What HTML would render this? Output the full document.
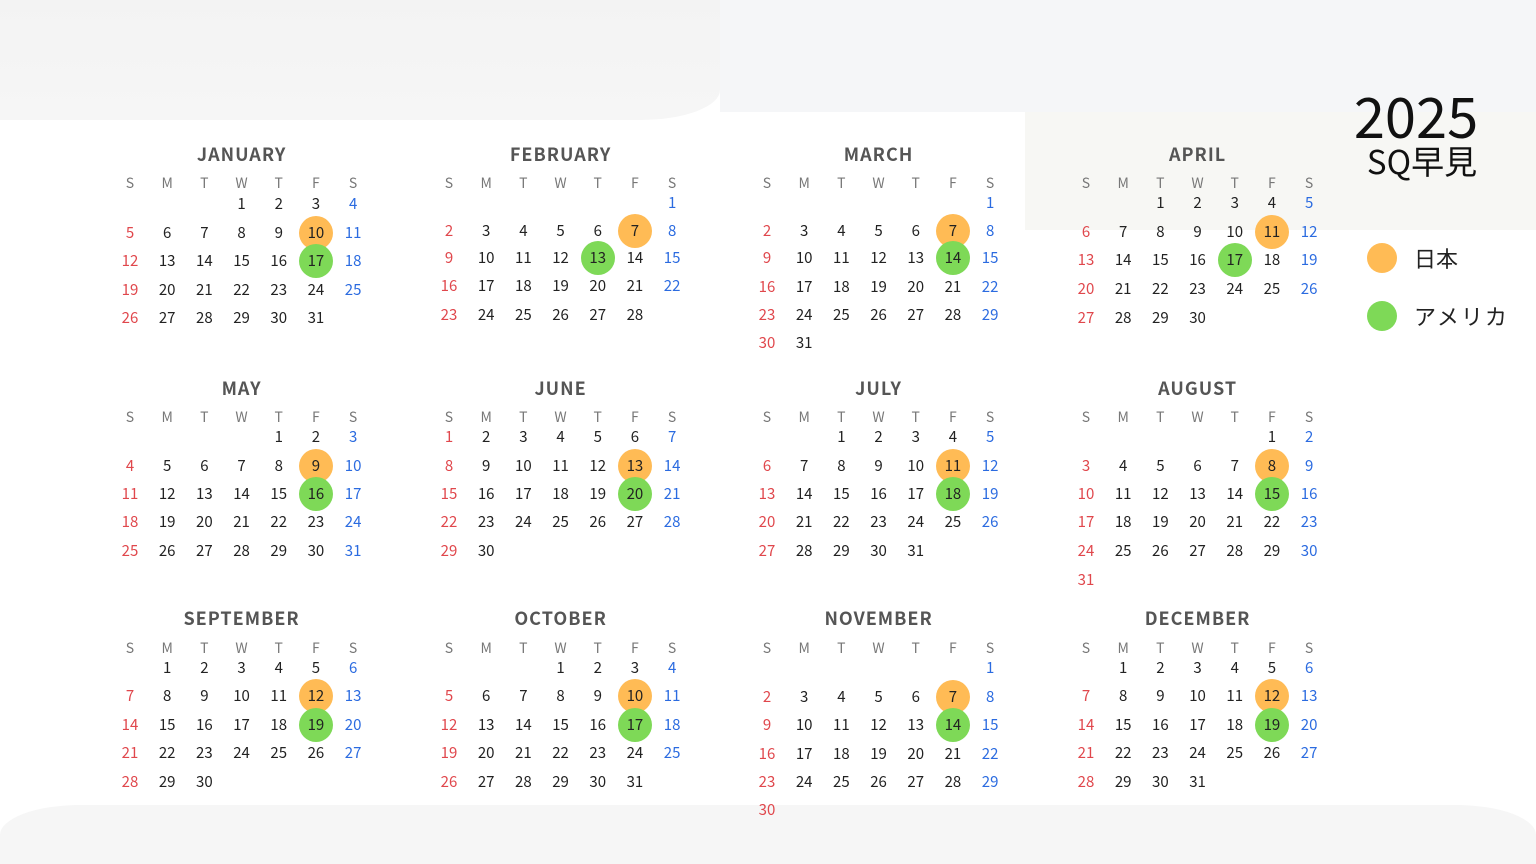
<!DOCTYPE html>
<html><head><meta charset="utf-8"><style>
*{margin:0;padding:0;box-sizing:border-box}
body{width:1536px;height:864px;position:relative;overflow:hidden;background:#fff;font-family:"Noto Sans CJK JP","Liberation Sans",sans-serif;color:#222}
.bg{position:absolute}
.m{position:absolute;width:260.4px}
.t{position:absolute;left:0;width:260.4px;text-align:center;font-size:18px;font-weight:700;letter-spacing:1px;color:#555;line-height:24px}
.h,.r{position:absolute;left:0;display:flex}
.h i,.r i{font-style:normal;width:37.2px;text-align:center;display:block;position:relative}
.h i{font-size:14px;color:#777;line-height:20px}
.r i{font-size:15px;line-height:28px;height:28px}
.r i:first-child{color:#e0474c}
.r i:last-child{color:#2b6be0}
.r i.o,.r i.g{z-index:1}
.r i.o::before,.r i.g::before{content:"";position:absolute;left:1.6px;top:-3px;width:34px;height:34px;border-radius:50%;z-index:-1}
.r i.o::before{background:#ffbb55}
.r i.g::before{background:#7ed957}
</style></head><body>
<div class="bg" style="left:0;top:0;width:720px;height:120px;background:linear-gradient(180deg,#f3f3f3,#f6f6f6);border-radius:0 0 80px 0/0 0 30px 0"></div>
<div class="bg" style="left:720px;top:0;width:816px;height:112px;background:#f5f6f8"></div>
<div class="bg" style="left:1025px;top:112px;width:511px;height:118px;background:#f7f7f4"></div>
<div class="bg" style="left:0;top:805px;width:1536px;height:59px;background:#f6f6f6;border-radius:80px 80px 0 0/30px 30px 0 0"></div>

<div style="position:absolute;left:1334px;top:82px;width:164px;text-align:center;font-size:56px;line-height:66px;color:#111">2025</div>
<div style="position:absolute;left:1340px;top:138px;width:164px;text-align:center;font-size:33px;line-height:44px;color:#111">SQ早見</div>
<div style="position:absolute;left:1367px;top:243px;width:30px;height:30px;border-radius:50%;background:#ffbb55"></div>
<div style="position:absolute;left:1414px;top:243px;font-size:22px;line-height:30px;color:#222">日本</div>
<div style="position:absolute;left:1367px;top:301px;width:30px;height:30px;border-radius:50%;background:#7ed957"></div>
<div style="position:absolute;left:1414px;top:301px;font-size:22px;line-height:30px;color:#222;letter-spacing:2px">アメリカ</div>

<!-- Row 1 -->
<div class="m" style="left:111.4px;top:0">
<div class="t" style="top:142px">JANUARY</div>
<div class="h" style="top:173px"><i>S</i><i>M</i><i>T</i><i>W</i><i>T</i><i>F</i><i>S</i></div>
<div class="r" style="top:190px"><i></i><i></i><i></i><i>1</i><i>2</i><i>3</i><i>4</i></div>
<div class="r" style="top:218.5px"><i>5</i><i>6</i><i>7</i><i>8</i><i>9</i><i class="o">10</i><i>11</i></div>
<div class="r" style="top:247px"><i>12</i><i>13</i><i>14</i><i>15</i><i>16</i><i class="g">17</i><i>18</i></div>
<div class="r" style="top:275.5px"><i>19</i><i>20</i><i>21</i><i>22</i><i>23</i><i>24</i><i>25</i></div>
<div class="r" style="top:304px"><i>26</i><i>27</i><i>28</i><i>29</i><i>30</i><i>31</i><i></i></div>
</div>
<div class="m" style="left:430.4px;top:0">
<div class="t" style="top:142px">FEBRUARY</div>
<div class="h" style="top:173px"><i>S</i><i>M</i><i>T</i><i>W</i><i>T</i><i>F</i><i>S</i></div>
<div class="r" style="top:189px"><i></i><i></i><i></i><i></i><i></i><i></i><i>1</i></div>
<div class="r" style="top:216.5px"><i>2</i><i>3</i><i>4</i><i>5</i><i>6</i><i class="o">7</i><i>8</i></div>
<div class="r" style="top:244px"><i>9</i><i>10</i><i>11</i><i>12</i><i class="g">13</i><i>14</i><i>15</i></div>
<div class="r" style="top:272px"><i>16</i><i>17</i><i>18</i><i>19</i><i>20</i><i>21</i><i>22</i></div>
<div class="r" style="top:301px"><i>23</i><i>24</i><i>25</i><i>26</i><i>27</i><i>28</i><i></i></div>
</div>
<div class="m" style="left:748.4px;top:0">
<div class="t" style="top:142px">MARCH</div>
<div class="h" style="top:173px"><i>S</i><i>M</i><i>T</i><i>W</i><i>T</i><i>F</i><i>S</i></div>
<div class="r" style="top:189px"><i></i><i></i><i></i><i></i><i></i><i></i><i>1</i></div>
<div class="r" style="top:216.5px"><i>2</i><i>3</i><i>4</i><i>5</i><i>6</i><i class="o">7</i><i>8</i></div>
<div class="r" style="top:244px"><i>9</i><i>10</i><i>11</i><i>12</i><i>13</i><i class="g">14</i><i>15</i></div>
<div class="r" style="top:272.5px"><i>16</i><i>17</i><i>18</i><i>19</i><i>20</i><i>21</i><i>22</i></div>
<div class="r" style="top:301px"><i>23</i><i>24</i><i>25</i><i>26</i><i>27</i><i>28</i><i>29</i></div>
<div class="r" style="top:329px"><i>30</i><i>31</i><i></i><i></i><i></i><i></i><i></i></div>
</div>
<div class="m" style="left:1067.4px;top:0">
<div class="t" style="top:142px">APRIL</div>
<div class="h" style="top:173px"><i>S</i><i>M</i><i>T</i><i>W</i><i>T</i><i>F</i><i>S</i></div>
<div class="r" style="top:189px"><i></i><i></i><i>1</i><i>2</i><i>3</i><i>4</i><i>5</i></div>
<div class="r" style="top:218px"><i>6</i><i>7</i><i>8</i><i>9</i><i>10</i><i class="o">11</i><i>12</i></div>
<div class="r" style="top:246px"><i>13</i><i>14</i><i>15</i><i>16</i><i class="g">17</i><i>18</i><i>19</i></div>
<div class="r" style="top:275px"><i>20</i><i>21</i><i>22</i><i>23</i><i>24</i><i>25</i><i>26</i></div>
<div class="r" style="top:304px"><i>27</i><i>28</i><i>29</i><i>30</i><i></i><i></i><i></i></div>
</div>

<!-- Row 2 -->
<div class="m" style="left:111.4px;top:0">
<div class="t" style="top:376px">MAY</div>
<div class="h" style="top:407px"><i>S</i><i>M</i><i>T</i><i>W</i><i>T</i><i>F</i><i>S</i></div>
<div class="r" style="top:423px"><i></i><i></i><i></i><i></i><i>1</i><i>2</i><i>3</i></div>
<div class="r" style="top:451.5px"><i>4</i><i>5</i><i>6</i><i>7</i><i>8</i><i class="o">9</i><i>10</i></div>
<div class="r" style="top:480px"><i>11</i><i>12</i><i>13</i><i>14</i><i>15</i><i class="g">16</i><i>17</i></div>
<div class="r" style="top:508px"><i>18</i><i>19</i><i>20</i><i>21</i><i>22</i><i>23</i><i>24</i></div>
<div class="r" style="top:536.5px"><i>25</i><i>26</i><i>27</i><i>28</i><i>29</i><i>30</i><i>31</i></div>
</div>
<div class="m" style="left:430.4px;top:0">
<div class="t" style="top:376px">JUNE</div>
<div class="h" style="top:407px"><i>S</i><i>M</i><i>T</i><i>W</i><i>T</i><i>F</i><i>S</i></div>
<div class="r" style="top:423px"><i>1</i><i>2</i><i>3</i><i>4</i><i>5</i><i>6</i><i>7</i></div>
<div class="r" style="top:451.5px"><i>8</i><i>9</i><i>10</i><i>11</i><i>12</i><i class="o">13</i><i>14</i></div>
<div class="r" style="top:480px"><i>15</i><i>16</i><i>17</i><i>18</i><i>19</i><i class="g">20</i><i>21</i></div>
<div class="r" style="top:508px"><i>22</i><i>23</i><i>24</i><i>25</i><i>26</i><i>27</i><i>28</i></div>
<div class="r" style="top:536.5px"><i>29</i><i>30</i><i></i><i></i><i></i><i></i><i></i></div>
</div>
<div class="m" style="left:748.4px;top:0">
<div class="t" style="top:376px">JULY</div>
<div class="h" style="top:407px"><i>S</i><i>M</i><i>T</i><i>W</i><i>T</i><i>F</i><i>S</i></div>
<div class="r" style="top:423px"><i></i><i></i><i>1</i><i>2</i><i>3</i><i>4</i><i>5</i></div>
<div class="r" style="top:451.5px"><i>6</i><i>7</i><i>8</i><i>9</i><i>10</i><i class="o">11</i><i>12</i></div>
<div class="r" style="top:480px"><i>13</i><i>14</i><i>15</i><i>16</i><i>17</i><i class="g">18</i><i>19</i></div>
<div class="r" style="top:508px"><i>20</i><i>21</i><i>22</i><i>23</i><i>24</i><i>25</i><i>26</i></div>
<div class="r" style="top:537px"><i>27</i><i>28</i><i>29</i><i>30</i><i>31</i><i></i><i></i></div>
</div>
<div class="m" style="left:1067.4px;top:0">
<div class="t" style="top:376px">AUGUST</div>
<div class="h" style="top:407px"><i>S</i><i>M</i><i>T</i><i>W</i><i>T</i><i>F</i><i>S</i></div>
<div class="r" style="top:423px"><i></i><i></i><i></i><i></i><i></i><i>1</i><i>2</i></div>
<div class="r" style="top:452px"><i>3</i><i>4</i><i>5</i><i>6</i><i>7</i><i class="o">8</i><i>9</i></div>
<div class="r" style="top:480px"><i>10</i><i>11</i><i>12</i><i>13</i><i>14</i><i class="g">15</i><i>16</i></div>
<div class="r" style="top:508px"><i>17</i><i>18</i><i>19</i><i>20</i><i>21</i><i>22</i><i>23</i></div>
<div class="r" style="top:537px"><i>24</i><i>25</i><i>26</i><i>27</i><i>28</i><i>29</i><i>30</i></div>
<div class="r" style="top:566px"><i>31</i><i></i><i></i><i></i><i></i><i></i><i></i></div>
</div>

<!-- Row 3 -->
<div class="m" style="left:111.4px;top:0">
<div class="t" style="top:606px">SEPTEMBER</div>
<div class="h" style="top:638px"><i>S</i><i>M</i><i>T</i><i>W</i><i>T</i><i>F</i><i>S</i></div>
<div class="r" style="top:654px"><i></i><i>1</i><i>2</i><i>3</i><i>4</i><i>5</i><i>6</i></div>
<div class="r" style="top:682px"><i>7</i><i>8</i><i>9</i><i>10</i><i>11</i><i class="o">12</i><i>13</i></div>
<div class="r" style="top:710.5px"><i>14</i><i>15</i><i>16</i><i>17</i><i>18</i><i class="g">19</i><i>20</i></div>
<div class="r" style="top:739px"><i>21</i><i>22</i><i>23</i><i>24</i><i>25</i><i>26</i><i>27</i></div>
<div class="r" style="top:767.5px"><i>28</i><i>29</i><i>30</i><i></i><i></i><i></i><i></i></div>
</div>
<div class="m" style="left:430.4px;top:0">
<div class="t" style="top:606px">OCTOBER</div>
<div class="h" style="top:638px"><i>S</i><i>M</i><i>T</i><i>W</i><i>T</i><i>F</i><i>S</i></div>
<div class="r" style="top:654px"><i></i><i></i><i></i><i>1</i><i>2</i><i>3</i><i>4</i></div>
<div class="r" style="top:682px"><i>5</i><i>6</i><i>7</i><i>8</i><i>9</i><i class="o">10</i><i>11</i></div>
<div class="r" style="top:711px"><i>12</i><i>13</i><i>14</i><i>15</i><i>16</i><i class="g">17</i><i>18</i></div>
<div class="r" style="top:739px"><i>19</i><i>20</i><i>21</i><i>22</i><i>23</i><i>24</i><i>25</i></div>
<div class="r" style="top:768px"><i>26</i><i>27</i><i>28</i><i>29</i><i>30</i><i>31</i><i></i></div>
</div>
<div class="m" style="left:748.4px;top:0">
<div class="t" style="top:606px">NOVEMBER</div>
<div class="h" style="top:638px"><i>S</i><i>M</i><i>T</i><i>W</i><i>T</i><i>F</i><i>S</i></div>
<div class="r" style="top:654px"><i></i><i></i><i></i><i></i><i></i><i></i><i>1</i></div>
<div class="r" style="top:683px"><i>2</i><i>3</i><i>4</i><i>5</i><i>6</i><i class="o">7</i><i>8</i></div>
<div class="r" style="top:711px"><i>9</i><i>10</i><i>11</i><i>12</i><i>13</i><i class="g">14</i><i>15</i></div>
<div class="r" style="top:739.5px"><i>16</i><i>17</i><i>18</i><i>19</i><i>20</i><i>21</i><i>22</i></div>
<div class="r" style="top:768px"><i>23</i><i>24</i><i>25</i><i>26</i><i>27</i><i>28</i><i>29</i></div>
<div class="r" style="top:796px"><i>30</i><i></i><i></i><i></i><i></i><i></i><i></i></div>
</div>
<div class="m" style="left:1067.4px;top:0">
<div class="t" style="top:606px">DECEMBER</div>
<div class="h" style="top:638px"><i>S</i><i>M</i><i>T</i><i>W</i><i>T</i><i>F</i><i>S</i></div>
<div class="r" style="top:654px"><i></i><i>1</i><i>2</i><i>3</i><i>4</i><i>5</i><i>6</i></div>
<div class="r" style="top:682px"><i>7</i><i>8</i><i>9</i><i>10</i><i>11</i><i class="o">12</i><i>13</i></div>
<div class="r" style="top:710.5px"><i>14</i><i>15</i><i>16</i><i>17</i><i>18</i><i class="g">19</i><i>20</i></div>
<div class="r" style="top:739px"><i>21</i><i>22</i><i>23</i><i>24</i><i>25</i><i>26</i><i>27</i></div>
<div class="r" style="top:767.5px"><i>28</i><i>29</i><i>30</i><i>31</i><i></i><i></i><i></i></div>
</div>
</body></html>
